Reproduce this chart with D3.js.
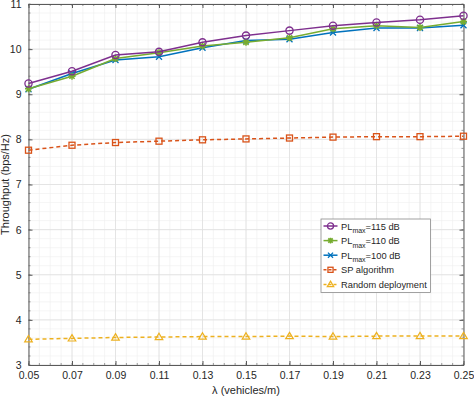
<!DOCTYPE html>
<html>
<head>
<meta charset="utf-8">
<script src="https://cdn.jsdelivr.net/npm/d3@7"></script>
<style>
  body { margin: 0; background: #fff; }
  text { font-family: "Liberation Sans", Arial, sans-serif; fill: #262626; }
</style>
</head>
<body>
<div id="chart"></div>
<script>
// Data
const lambdas = [0.05, 0.07, 0.09, 0.11, 0.13, 0.15, 0.17, 0.19, 0.21, 0.23, 0.25];
const pl115 = [9.24, 9.51, 9.87, 9.94, 10.15, 10.30, 10.41, 10.52, 10.59, 10.65, 10.74];
const pl110 = [9.12, 9.40, 9.79, 9.92, 10.07, 10.15, 10.25, 10.45, 10.52, 10.48, 10.61];
const pl100 = [9.11, 9.46, 9.76, 9.83, 10.03, 10.19, 10.22, 10.37, 10.47, 10.47, 10.53];
const spAlg = [7.76, 7.87, 7.93, 7.96, 7.99, 8.01, 8.03, 8.05, 8.06, 8.06, 8.07];
const randomDep = [3.57, 3.59, 3.61, 3.62, 3.63, 3.63, 3.64, 3.63, 3.64, 3.64, 3.64];
const yTicks = [3, 4, 5, 6, 7, 8, 9, 10, 11];
const seriesNames = ["115", "110", "100", "SP algorithm", "Random deployment"];

const width = 474, height = 398;
const margin = {left: 28.5, right: 10.5, top: 4, bottom: 33};

const svg = d3.select("#chart").append("svg")
    .attr("width", width)
    .attr("height", height);

const x = d3.scaleLinear().domain([0.05, 0.25]).range([margin.left, width - margin.right]);
const y = d3.scaleLinear().domain([3, 11]).range([height - margin.bottom, margin.top]);

// minor grid
const xMinor = d3.range(0.05, 0.2501, 0.005);
const yMinor = d3.range(3, 11.001, 0.2);
svg.append("g").selectAll("line").data(xMinor).enter().append("line")
    .attr("x1", d => x(d)).attr("x2", d => x(d))
    .attr("y1", y(3)).attr("y2", y(11))
    .attr("stroke", "#eeeeee").attr("stroke-width", 0.6);
svg.append("g").selectAll("line").data(yMinor).enter().append("line")
    .attr("x1", x(0.05)).attr("x2", x(0.25))
    .attr("y1", d => y(d)).attr("y2", d => y(d))
    .attr("stroke", "#eeeeee").attr("stroke-width", 0.6);

// major grid
svg.append("g").selectAll("line").data(lambdas).enter().append("line")
    .attr("x1", d => x(d)).attr("x2", d => x(d))
    .attr("y1", y(3)).attr("y2", y(11))
    .attr("stroke", "#e0e0e0").attr("stroke-width", 0.8);
svg.append("g").selectAll("line").data(yTicks).enter().append("line")
    .attr("x1", x(0.05)).attr("x2", x(0.25))
    .attr("y1", d => y(d)).attr("y2", d => y(d))
    .attr("stroke", "#e0e0e0").attr("stroke-width", 0.8);

// axes (ticks pointing inward, box on)
const fmt = d3.format(".2f");
const axisColor = "#5a5a5a";
function styleAxis(g) {
    g.select(".domain").attr("stroke", axisColor);
    g.selectAll(".tick line").attr("stroke", axisColor);
    g.selectAll("text").style("font-size", "10.5px").attr("fill", "#333");
}
svg.append("g")
    .attr("transform", `translate(0,${y(3)})`)
    .call(d3.axisBottom(x).tickValues(lambdas).tickFormat(fmt).tickSizeInner(-4).tickSizeOuter(0).tickPadding(7))
    .call(styleAxis);
svg.append("g")
    .attr("transform", `translate(0,${y(11)})`)
    .call(d3.axisTop(x).tickValues(lambdas).tickFormat("").tickSizeInner(-4).tickSizeOuter(0))
    .call(styleAxis);
svg.append("g")
    .attr("transform", `translate(${x(0.05)},0)`)
    .call(d3.axisLeft(y).tickValues(yTicks).tickFormat(d3.format("d")).tickSizeInner(-4).tickSizeOuter(0).tickPadding(7))
    .call(styleAxis);
svg.append("g")
    .attr("transform", `translate(${x(0.25)},0)`)
    .call(d3.axisRight(y).tickValues(yTicks).tickFormat("").tickSizeInner(-4).tickSizeOuter(0))
    .call(styleAxis);

// minor ticks
const minorG = svg.append("g").attr("stroke", axisColor).attr("stroke-width", 0.6);
xMinor.forEach(v => {
    minorG.append("line").attr("x1", x(v)).attr("x2", x(v)).attr("y1", y(3)).attr("y2", y(3) - 2);
    minorG.append("line").attr("x1", x(v)).attr("x2", x(v)).attr("y1", y(11)).attr("y2", y(11) + 2);
});
yMinor.forEach(v => {
    minorG.append("line").attr("x1", x(0.05)).attr("x2", x(0.05) + 2).attr("y1", y(v)).attr("y2", y(v));
    minorG.append("line").attr("x1", x(0.25)).attr("x2", x(0.25) - 2).attr("y1", y(v)).attr("y2", y(v));
});

// axis labels
svg.append("text")
    .attr("x", (x(0.05) + x(0.25)) / 2)
    .attr("y", height - 4)
    .attr("text-anchor", "middle")
    .style("font-size", "11px")
    .text("λ (vehicles/m)");
svg.append("text")
    .attr("transform", `translate(9,${(y(3) + y(11)) / 2}) rotate(-90)`)
    .attr("text-anchor", "middle")
    .style("font-size", "11px")
    .text("Throughput (bps/Hz)");

// series
const series = [
    {name: seriesNames[0], values: pl115, color: "#7E2F8E", marker: "circle", dash: null},
    {name: seriesNames[1], values: pl110, color: "#77AC30", marker: "star", dash: null},
    {name: seriesNames[2], values: pl100, color: "#0072BD", marker: "x", dash: null},
    {name: seriesNames[3], values: spAlg, color: "#D95319", marker: "square", dash: "4,3"},
    {name: seriesNames[4], values: randomDep, color: "#EDB120", marker: "triangle", dash: "4,3"}
];

function drawMarker(g, type, cx, cy, color, s = 1) {
    if (type === "circle") {
        g.append("circle").attr("cx", cx).attr("cy", cy).attr("r", 3.6 * s)
            .attr("fill", "none").attr("stroke", color).attr("stroke-width", 1.3);
    } else if (type === "square") {
        g.append("rect").attr("x", cx - 3 * s).attr("y", cy - 3 * s).attr("width", 6 * s).attr("height", 6 * s)
            .attr("fill", "none").attr("stroke", color).attr("stroke-width", 1.3);
    } else if (type === "triangle") {
        g.append("path").attr("d", `M${cx},${cy - 3.8 * s}L${cx + 3.8 * s},${cy + 2.6 * s}L${cx - 3.8 * s},${cy + 2.6 * s}Z`)
            .attr("fill", "none").attr("stroke", color).attr("stroke-width", 1.2);
    } else if (type === "x") {
        const r = 3 * s;
        g.append("path").attr("d", `M${cx - r},${cy - r}L${cx + r},${cy + r}M${cx - r},${cy + r}L${cx + r},${cy - r}`)
            .attr("stroke", color).attr("stroke-width", 1.3);
    } else if (type === "star") {
        const r = 3.5 * s, q = 2.6 * s;
        g.append("path").attr("d", `M${cx - r},${cy}L${cx + r},${cy}M${cx},${cy - r}L${cx},${cy + r}` +
            `M${cx - q},${cy - q}L${cx + q},${cy + q}M${cx - q},${cy + q}L${cx + q},${cy - q}`)
            .attr("stroke", color).attr("stroke-width", 1.5);
    }
}

const line = d3.line().x((d, i) => x(lambdas[i])).y(d => y(d));
// draw bottom-most first so purple sits on top like the original
[4, 3, 2, 1, 0].forEach(k => {
    const s = series[k];
    const g = svg.append("g");
    g.append("path").datum(s.values)
        .attr("d", line)
        .attr("fill", "none")
        .attr("stroke", s.color)
        .attr("stroke-width", 1.5)
        .attr("stroke-dasharray", s.dash);
    s.values.forEach((v, i) => drawMarker(g, s.marker, x(lambdas[i]), y(v), s.color));
});

// legend
const lg = svg.append("g").attr("transform", "translate(321,219)");
lg.append("rect").attr("width", 109.5).attr("height", 73.5)
    .attr("fill", "#fff").attr("stroke", "#8a8a8a").attr("stroke-width", 0.8);
series.forEach((s, i) => {
    const cy = 7 + i * 14.6;
    lg.append("line").attr("x1", 2.5).attr("x2", 16.5).attr("y1", cy).attr("y2", cy)
        .attr("stroke", s.color).attr("stroke-width", 1.5).attr("stroke-dasharray", s.dash ? "3,2" : null);
    drawMarker(lg, s.marker, 9.5, cy, s.color, 0.85);
    const t = lg.append("text").attr("x", 20).attr("y", cy + 3.5).style("font-size", "9.3px");
    if (i < 3) {
        t.append("tspan").text("PL");
        t.append("tspan").attr("dy", 3.5).style("font-size", "7px").text("max");
        t.append("tspan").attr("dy", -3.5).text("=" + s.name + " dB");
    } else {
        t.text(s.name);
    }
});
</script>
</body>
</html>
